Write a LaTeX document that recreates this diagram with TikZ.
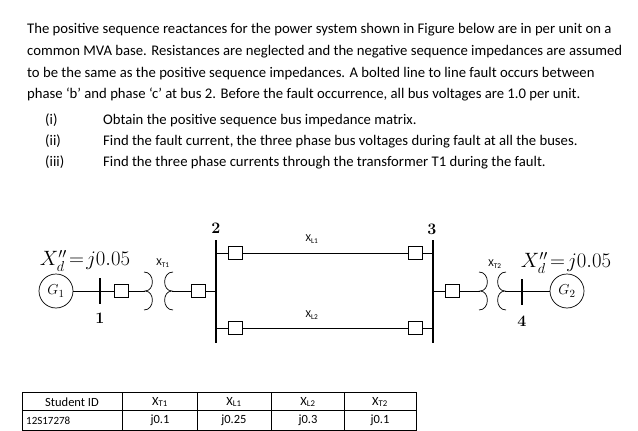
\documentclass[tikz,border=0pt]{standalone}
\usepackage{fontspec}
\setmainfont{Carlito}
\newfontfamily\lmfont{Latin Modern Roman}
\usepackage{amsmath}
\begin{document}
\begin{tikzpicture}[x=1pt,y=-1pt,
  txt/.style={anchor=base west,inner sep=0pt,font=\fontsize{14.7}{15}\selectfont},
  brk/.style={draw,fill=white,minimum width=14,minimum height=13,inner sep=0pt},
  wire/.style={line width=0.7pt},
  busbar/.style={line width=1.6pt},
  lbl/.style={font=\fontsize{10.5}{12}\selectfont,inner sep=0pt},
  num/.style={font=\lmfont\fontsize{16}{16}\bfseries\selectfont,inner sep=0pt},
  xd/.style={font=\fontsize{19.5}{20}\selectfont,inner sep=0pt},
  cell/.style={font=\fontsize{12.5}{13}\selectfont,inner sep=0pt}]
\useasboundingbox (0,0) rectangle (638,431);
% text
\node[txt] (t1) at (27,34) {The positive sequence reactances for the power system shown in Figure below are in per unit on a};
\node[txt] (t2) at (27,56) {common MVA base. Resistances are neglected and the negative sequence impedances are assumed};
\node[txt] (t3) at (27,77) {to be the same as the positive sequence impedances. A bolted line to line fault occurs between};
\node[txt] (t4) at (27,98) {phase ‘b’ and phase ‘c’ at bus 2. Before the fault occurrence, all bus voltages are 1.0 per unit.};
\node[txt] (i1) at (45,124) {(i)};
\node[txt] (i2) at (45,145) {(ii)};
\node[txt] (i3) at (45,166) {(iii)};
\node[txt] (j1) at (103,124) {Obtain the positive sequence bus impedance matrix.};
\node[txt] (j2) at (103,145) {Find the fault current, the three phase bus voltages during fault at all the buses.};
\node[txt] (j3) at (103,166) {Find the three phase currents through the transformer T1 during the fault.};
% buses
\coordinate (b2t) at (216,240); \coordinate (b2b) at (216,343);
\coordinate (b3t) at (433,240); \coordinate (b3b) at (433,343);
\draw[busbar] (b2t) -- (b2b);
\draw[busbar] (b3t) -- (b3b);
\node[num] (n2) at (216,228) {2};
\node[num] (n3) at (432,229) {3};
% lines
\node[brk] (s1) at (235,253) {};
\node[brk] (s2) at (415,253) {};
\node[brk] (s3) at (235,328) {};
\node[brk] (s4) at (415,328) {};
\draw[wire] (216,253) -- (s1) -- (s2) -- (433,253);
\draw[wire] (216,328) -- (s3) -- (s4) -- (433,328);
\node[lbl] (xl1) at (312,239) {X\textsubscript{L1}};
\node[lbl] (xl2) at (312,315) {X\textsubscript{L2}};
% left side
\node[draw,circle,minimum size=34,inner sep=0pt,wire] (g1) at (56,291) {\lmfont\fontsize{15}{15}\selectfont$G_1$};
\draw[line width=1.3pt] (100,278) -- (100,304);
\node[num] (n1) at (100,318) {1};
\node[brk] (s5) at (121,291) {};
\node[brk] (s6) at (198,291) {};
\coordinate (t1l) at (145,291); \coordinate (t1r) at (172,291);
\draw[wire] (g1) -- (s5) -- (t1l);
\draw[wire] (t1r) -- (s6) -- (216,291);
\draw[wire] (144,272) .. controls (155,272) and (155,291) .. (t1l) .. controls (155,291) and (155,310) .. (144,310);
\draw[wire] (173,272) .. controls (162,272) and (162,291) .. (t1r) .. controls (162,291) and (162,310) .. (173,310);
\node[xd] (xd1) at (85,261) {$X''_d\!=\!j0.05$};
\node[lbl] (xt1) at (163,263) {X\textsubscript{T1}};
% right side
\node[brk] (s7) at (452,291) {};
\coordinate (t2l) at (480,291); \coordinate (t2r) at (505,291);
\draw[wire] (433,291) -- (s7) -- (t2l);
\draw[wire] (479,272) .. controls (490,272) and (490,291) .. (t2l) .. controls (490,291) and (490,310) .. (479,310);
\draw[wire] (506,272) .. controls (495,272) and (495,291) .. (t2r) .. controls (495,291) and (495,310) .. (506,310);
\draw[line width=1.3pt] (522,279) -- (522,305);
\node[num] (n4) at (522,321) {4};
\node[draw,circle,minimum size=34,inner sep=0pt,wire] (g2) at (567,291) {\lmfont\fontsize{15}{15}\selectfont$G_2$};
\draw[wire] (t2r) -- (g2);
\node[xd] (xd2) at (566,263) {$X''_d\!=\!j0.05$};
\node[lbl] (xt2) at (495,264) {X\textsubscript{T2}};
% table
\draw[line width=0.7pt] (22,392) rectangle (416,430);
\draw[line width=0.7pt] (22,410) -- (416,410);
\foreach \xx in {122,197,271,344} \draw[line width=0.7pt] (\xx,392) -- (\xx,430);
\node[cell] (h0) at (72,402) {Student ID};
\node[cell] (h1) at (160,402) {X\textsubscript{T1}};
\node[cell] (h2) at (234,402) {X\textsubscript{L1}};
\node[cell] (h3) at (308,402) {X\textsubscript{L2}};
\node[cell] (h4) at (380,402) {X\textsubscript{T2}};
\node[cell,anchor=west,font=\fontsize{11}{12}\selectfont] (d0) at (26,421) {12S17278};
\node[cell] (d1) at (160,420) {j0.1};
\node[cell] (d2) at (234,420) {j0.25};
\node[cell] (d3) at (308,420) {j0.3};
\node[cell] (d4) at (380,420) {j0.1};
\end{tikzpicture}
\end{document}
